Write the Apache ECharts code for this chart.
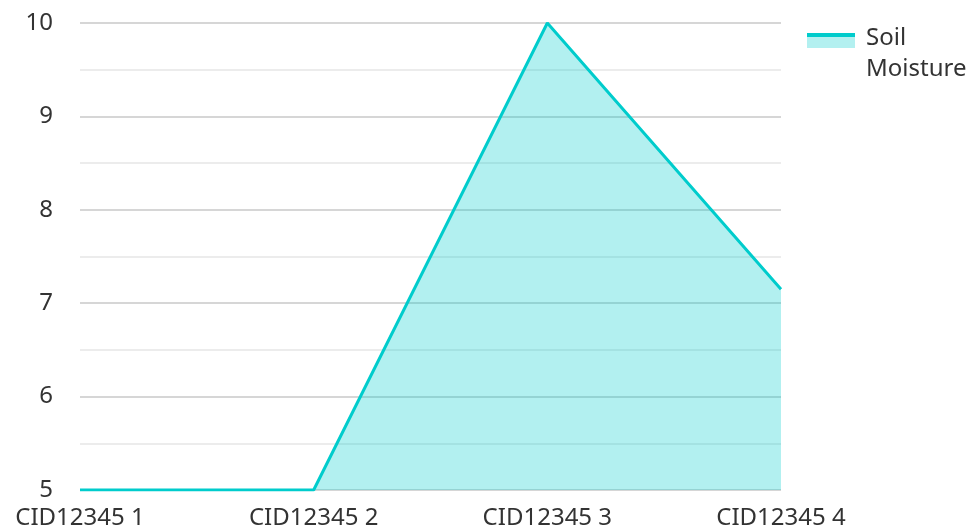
<!DOCTYPE html>
<html><head><meta charset="utf-8">
<script src="https://cdn.jsdelivr.net/npm/echarts@6/dist/echarts.min.js"></script>
<style>html,body{margin:0;padding:0;background:#fff}#c{width:971px;height:531px}</style>
</head><body><div id="c"></div>
<script>
var categories = ['CID12345 1', 'CID12345 2', 'CID12345 3', 'CID12345 4'];
var soilMoisture = [5, 5, 10, 7.15];
var seriesName = 'Soil Moisture';

var iconSvg = '<svg xmlns="http://www.w3.org/2000/svg" width="48" height="62" viewBox="0 0 48 62" preserveAspectRatio="none">' +
  '<rect x="0" y="10" width="48" height="15" fill="#b3f0f0"/>' +
  '<rect x="0" y="10" width="48" height="4" fill="#00cccc"/></svg>';
var iconUrl = 'image://data:image/svg+xml;charset=utf-8,' + encodeURIComponent(iconSvg);

var chart = echarts.init(document.getElementById('c'), null, {renderer: 'canvas'});
var font = '"Noto Sans", sans-serif';
chart.setOption({
  animation: false,
  textStyle: {fontFamily: font},
  grid: {left: 80, right: 190, top: 23, bottom: 41, containLabel: false},
  legend: {
    data: [{name: seriesName, icon: iconUrl}],
    left: 807, top: 23, padding: 0,
    itemWidth: 48, itemHeight: 62, itemGap: 10,
    textStyle: {fontFamily: font, fontSize: 24, color: '#333', width: 110, overflow: 'break', lineHeight: 31, padding: [0, 0, 0, 6]}
  },
  xAxis: {
    type: 'category', data: categories, boundaryGap: false,
    axisLine: {show: false}, axisTick: {show: false},
    axisLabel: {fontFamily: font, fontSize: 24, color: '#333', margin: 16, interval: 0},
    splitLine: {show: false}
  },
  yAxis: {
    type: 'value', min: 5, max: 10, interval: 1,
    axisLine: {show: false}, axisTick: {show: false},
    axisLabel: {fontFamily: font, fontSize: 24, color: '#333', margin: 27},
    splitLine: {show: true, lineStyle: {color: '#c8c8c8', width: 1.5}},
    minorTick: {show: false, splitNumber: 2},
    minorSplitLine: {show: true, lineStyle: {color: '#e6e6e6', width: 1.5}}
  },
  series: [{
    name: seriesName, type: 'line', data: soilMoisture,
    symbol: 'none', showSymbol: false,
    lineStyle: {color: '#00cccc', width: 3},
    itemStyle: {color: '#00cccc'},
    areaStyle: {color: '#00cccc', opacity: 0.3}
  }]
});
</script></body></html>
